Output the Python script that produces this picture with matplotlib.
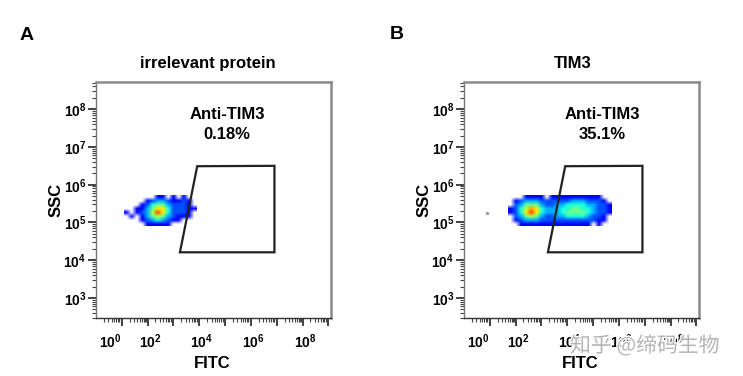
import numpy as np
import matplotlib.pyplot as plt
from matplotlib.colors import LinearSegmentedColormap
import matplotlib.patheffects as pe

plt.rcParams['font.family'] = ['Liberation Sans', 'DejaVu Sans']
plt.rcParams['mathtext.fontset'] = 'custom'
plt.rcParams['mathtext.rm'] = 'Liberation Sans:bold'
plt.rcParams['mathtext.bf'] = 'Liberation Sans:bold'

# ---- data (log10 units) ----
panel_letters = ['A', 'B']
panel_titles = ['irrelevant protein', 'TIM3']
gate_name = 'Anti-TIM3'
gate_pct = ['0.18%', '35.1%']

# gate polygon, log10(FITC) / log10(SSC)
gate_x = [3.25, 3.92, 6.91, 6.91]
gate_y = [4.21, 6.49, 6.50, 4.21]

# density grids (relative event density 0-10), rows from high SSC to low SSC
grid_y = [5.65, 5.55, 5.45, 5.35, 5.25, 5.15, 5.05, 4.95]

grid_x_a = [1.2, 1.4, 1.6, 1.8, 2.0, 2.2, 2.4, 2.6, 2.8, 3.0, 3.2, 3.4, 3.6, 3.8]
density_a = [
    [0, 0, 0, 0, 0, 0, 1, 1, 0, 1, 0, 1, 0, 0],
    [0, 0, 0, 0, 1, 2, 3, 3, 2, 1, 1, 2, 1, 0],
    [0, 0, 0, 1, 2, 4, 5, 5, 3, 2, 2, 2, 1, 0],
    [0, 0, 1, 1, 3, 5, 7, 7, 4, 2, 2, 2, 1, 1],
    [1, 0, 1, 2, 3, 6, 9, 7, 4, 2, 2, 2, 1, 0],
    [0, 1, 0, 1, 3, 5, 6, 5, 3, 2, 1, 1, 1, 0],
    [0, 0, 0, 1, 2, 3, 4, 3, 2, 1, 1, 0, 0, 0],
    [0, 0, 0, 0, 1, 1, 1, 1, 1, 0, 0, 0, 0, 0],
]

grid_x_b = [1.8, 2.0, 2.2, 2.4, 2.6, 2.8, 3.0, 3.2, 3.4, 3.6,
            3.8, 4.0, 4.2, 4.4, 4.6, 4.8, 5.0, 5.2, 5.4, 5.6]
density_b = [
    [0, 0, 0, 1, 1, 1, 1, 0, 1, 1, 1, 1, 1, 1, 1, 1, 1, 1, 0, 0],
    [0, 1, 2, 3, 3, 3, 2, 2, 2, 2, 2, 2, 3, 3, 3, 2, 2, 2, 1, 0],
    [0, 2, 3, 5, 5, 5, 3, 2, 2, 3, 3, 4, 4, 4, 4, 3, 3, 2, 2, 1],
    [1, 2, 4, 6, 8, 7, 4, 3, 3, 3, 4, 4, 5, 5, 4, 4, 3, 2, 2, 1],
    [1, 2, 4, 7, 9, 7, 4, 3, 3, 3, 4, 5, 5, 5, 5, 4, 3, 2, 2, 1],
    [0, 2, 3, 5, 6, 5, 3, 2, 2, 3, 3, 4, 4, 4, 4, 3, 2, 2, 1, 0],
    [0, 1, 2, 3, 3, 3, 2, 2, 2, 2, 2, 2, 2, 2, 2, 2, 2, 1, 1, 0],
    [0, 0, 1, 1, 1, 1, 1, 1, 1, 1, 1, 1, 1, 1, 1, 1, 0, 1, 0, 0],
]
# lone events outside the grids
single_x = [[], [0.9]]
single_y = [[], [5.25]]

x_decades = [0, 2, 4, 6, 8]
y_decades = [3, 4, 5, 6, 7, 8]

# colour map: white background then jet
jet = plt.get_cmap('jet')
stops = [(0.0, (1, 1, 1, 1)), (0.04, (1, 1, 1, 1))]
stops += [(0.08 + 0.92 * t, jet(0.1 + 0.82 * t)) for t in np.linspace(0, 1, 24)]
cmap = LinearSegmentedColormap.from_list('flow', stops)

fig = plt.figure(figsize=(7.43, 3.76), dpi=100)
lefts = [96 / 743, 464 / 743]
title_x = [0.477, 0.461]
text_x = [5.08, 5.37]
letter_pos = [(0.036, 0.905), (0.534, 0.908)]

minor = [np.log10(k) + d for d in range(-1, 10) for k in range(2, 10)]

for i in range(2):
    ax = fig.add_axes([lefts[i], 1 - 318 / 376, 235 / 743, 236 / 376])
    gx = grid_x_a if i == 0 else grid_x_b
    dens = np.array(density_a if i == 0 else density_b, dtype=float)
    ext = [gx[0] - 0.1, gx[-1] + 0.1, grid_y[-1] - 0.05, grid_y[0] + 0.05]
    ax.imshow(dens, extent=ext, cmap=cmap, vmin=0, vmax=10,
              interpolation='bilinear', interpolation_stage='rgba',
              aspect='auto', origin='upper', zorder=1)
    ax.scatter(single_x[i], single_y[i], s=2, color='#9a9ab0', zorder=2)
    ax.fill(gate_x, gate_y, fill=False, edgecolor='#222222', lw=1.6, zorder=3)

    ax.set_xlim(0.0, 9.1)
    ax.set_ylim(2.47, 8.72)

    ax.set_xticks(range(1, 10))
    ax.set_xticks([m for m in minor if 0 < m < 9.1], minor=True)
    ax.set_xticklabels([])
    ax.set_yticks(y_decades)
    ax.set_yticks([m for m in minor if 2.47 < m < 8.72], minor=True)
    ax.set_yticklabels([r'$10^{%d}$' % d for d in y_decades], fontsize=10)
    ax.tick_params(which='major', length=6, width=1.2, pad=1, color='#222222')
    ax.tick_params(which='minor', length=3, width=0.8, color='#444444')

    for d in x_decades:
        xl = 0.55 if d == 0 else d + 0.1
        ax.text(xl, -0.1, r'$10^{%d}$' % d, transform=ax.get_xaxis_transform(),
                ha='center', va='center', fontsize=10)

    for s in ['top', 'right']:
        ax.spines[s].set_color('#8a8a8a')
        ax.spines[s].set_linewidth(1.8)
    ax.spines['left'].set_color('#777777')
    ax.spines['left'].set_linewidth(1.0)
    ax.spines['bottom'].set_color('#333333')
    ax.spines['bottom'].set_linewidth(1.0)

    ax.text(-0.17, 0.5, 'SSC', transform=ax.transAxes, rotation=90,
            ha='center', va='center', fontsize=12, fontweight='bold')
    ax.text(0.495, -0.192, 'FITC', transform=ax.transAxes,
            ha='center', va='center', fontsize=12, fontweight='bold')
    ax.text(title_x[i], 1.079, panel_titles[i], transform=ax.transAxes,
            ha='center', va='center', fontsize=12, fontweight='bold')
    ax.text(text_x[i], 7.87, gate_name, ha='center', va='center',
            fontsize=12, fontweight='bold')
    ax.text(text_x[i], 7.32, gate_pct[i], ha='center', va='center',
            fontsize=12, fontweight='bold')

    fig.text(letter_pos[i][0], letter_pos[i][1], panel_letters[i],
             ha='center', va='center', fontsize=14, fontweight='bold')

# watermark of the source picture (it overlaps the axis labels there too)
fig.text(0.868, 0.08, '知乎 @缔码生物', ha='center', va='center', fontsize=15,
         color='#b4b4b4', family=['Noto Sans CJK SC', 'DejaVu Sans'],
         path_effects=[pe.withStroke(linewidth=2, foreground='white')])

fig.savefig('out.png', dpi=100)
